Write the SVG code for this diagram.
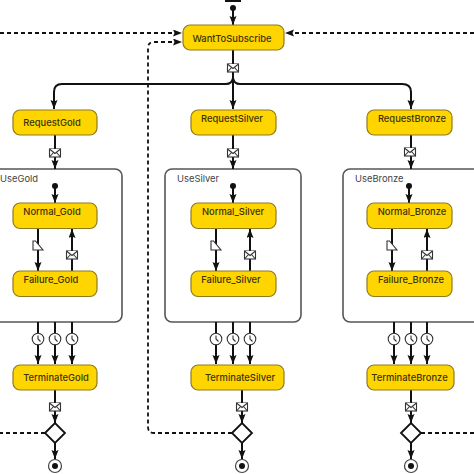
<svg xmlns="http://www.w3.org/2000/svg" width="474" height="474" viewBox="0 0 474 474">
<style>
.st{fill:#ffd500;stroke:#8f7a20;stroke-width:1.2}
.t{font-family:Inter,"Liberation Sans",sans-serif;font-size:9.4px;font-weight:500;fill:#3a3208;text-anchor:middle}
.r{fill:#fff;stroke:#555;stroke-width:1.6}
.l{font-family:Inter,"Liberation Sans",sans-serif;font-size:9.4px;fill:#444}
.c{fill:none;stroke:#111;stroke-width:2}
.d{fill:none;stroke:#111;stroke-width:1.8;stroke-dasharray:4 3}
.i{fill:#fff;stroke:#333;stroke-width:1.1}
.b{fill:#111}
</style>
<defs>
<marker id="a" markerUnits="userSpaceOnUse" markerWidth="10" markerHeight="8" refX="9" refY="3.500" orient="auto"><path d="M0 0L9 3.500L0 7L1.500 3.500Z" fill="#111"/></marker>
<g id="env"><rect x="-5.500" y="-4" width="11" height="8" class="i"/><path d="M-5.500-4L0 0.500L5.500-4M-5.500 4L-1.500-0.500M5.500 4L1.500-0.500" class="i"/></g>
<g id="clk"><circle r="5.800" class="i"/><path d="M0-3.500V0L2.500 2.500" class="i"/></g>
<g id="ramp"><path d="M-5-6H-2.500L5 3H-5Z" class="i"/></g>
<g id="fin"><circle r="6.500" fill="#fff" stroke="#444" stroke-width="1.200"/><circle r="3" class="b"/></g>
<path id="dia" d="M-10 0L0-10L10 0L0 10Z" fill="#fff" stroke="#111" stroke-width="1.800"/>
</defs>

<g id="UseGold"><rect class="r" x="-10" y="169" width="132" height="153" rx="7"/><text class="l" x="0" y="181.500">UseGold</text></g>
<g id="UseSilver"><rect class="r" x="165" y="169" width="136" height="153" rx="7"/><text class="l" x="177" y="181.500">UseSilver</text></g>
<g id="UseBronze"><rect class="r" x="343" y="169" width="140" height="153" rx="7"/><text class="l" x="355" y="181.500">UseBronze</text></g>

<g id="connectors">
<path class="d" d="M0 33H182" marker-end="url(#a)"/>
<path class="d" d="M474 33H285" marker-end="url(#a)"/>
<path class="d" d="M232 433H154Q148 433 148 427V48Q148 42 154 42H182" marker-end="url(#a)"/>
<path class="d" d="M45 433H0"/>
<path class="d" d="M421 433H474"/>
<path class="c" d="M233 8V25" marker-end="url(#a)"/>
<path class="c" d="M233 50V109" marker-end="url(#a)"/>
<path class="c" d="M233 78Q232 84 226 84H62Q54 84 54 92V109" marker-end="url(#a)"/>
<path class="c" d="M233 78Q234 84 240 84H402Q411 84 411 92V109" marker-end="url(#a)"/>
<path class="c" d="M55 135V169" marker-end="url(#a)"/>
<path class="c" d="M233 135V169" marker-end="url(#a)"/>
<path class="c" d="M411 135V169" marker-end="url(#a)"/>
<path class="c" d="M55 186V203" marker-end="url(#a)"/>
<path class="c" d="M233 186V203" marker-end="url(#a)"/>
<path class="c" d="M409 186V203" marker-end="url(#a)"/>
<path class="c" d="M38 229V271" marker-end="url(#a)"/>
<path class="c" d="M72 271V229" marker-end="url(#a)"/>
<path class="c" d="M216 229V271" marker-end="url(#a)"/>
<path class="c" d="M250 271V229" marker-end="url(#a)"/>
<path class="c" d="M392 229V271" marker-end="url(#a)"/>
<path class="c" d="M427 271V229" marker-end="url(#a)"/>
<path class="c" d="M38 322V364" marker-end="url(#a)"/>
<path class="c" d="M55 322V364" marker-end="url(#a)"/>
<path class="c" d="M72 322V364" marker-end="url(#a)"/>
<path class="c" d="M216 322V364" marker-end="url(#a)"/>
<path class="c" d="M233 322V364" marker-end="url(#a)"/>
<path class="c" d="M250 322V364" marker-end="url(#a)"/>
<path class="c" d="M394 322V364" marker-end="url(#a)"/>
<path class="c" d="M411 322V364" marker-end="url(#a)"/>
<path class="c" d="M427 322V364" marker-end="url(#a)"/>
<path class="c" d="M55 390V423" marker-end="url(#a)"/>
<path class="c" d="M242 390V423" marker-end="url(#a)"/>
<path class="c" d="M411 390V423" marker-end="url(#a)"/>
<path class="c" d="M55 443V459" marker-end="url(#a)"/>
<path class="c" d="M242 443V459" marker-end="url(#a)"/>
<path class="c" d="M411 443V459" marker-end="url(#a)"/>
</g>

<g id="icons">
<rect x="225" y="0" width="16" height="2" class="b"/>
<circle cx="233" cy="8" r="3" class="b"/><circle cx="55" cy="186" r="3" class="b"/><circle cx="233" cy="186" r="3" class="b"/><circle cx="409" cy="186" r="3" class="b"/>
<use href="#env" x="233" y="68"/><use href="#env" x="55" y="153"/><use href="#env" x="233" y="153"/><use href="#env" x="410" y="152"/>
<use href="#ramp" x="38" y="247"/><use href="#ramp" x="216" y="247"/><use href="#ramp" x="392" y="247"/>
<use href="#env" x="72" y="255"/><use href="#env" x="250" y="255"/><use href="#env" x="427" y="255"/>
<use href="#clk" x="38" y="339"/><use href="#clk" x="55" y="339"/><use href="#clk" x="72" y="339"/>
<use href="#clk" x="216" y="339"/><use href="#clk" x="233" y="339"/><use href="#clk" x="250" y="339"/>
<use href="#clk" x="394" y="339"/><use href="#clk" x="411" y="339"/><use href="#clk" x="427" y="339"/>
<use href="#env" x="55" y="407"/><use href="#env" x="242" y="407"/><use href="#env" x="411" y="407"/>
</g>

<g id="WantToSubscribe"><rect class="st" x="183" y="25" width="101" height="25" rx="7"/><text class="t" x="232" y="41.500">WantToSubscribe</text></g>
<g id="RequestGold"><rect class="st" x="13" y="110" width="84" height="25" rx="7"/><text class="t" x="52" y="126">RequestGold</text></g>
<g id="RequestSilver"><rect class="st" x="191" y="110" width="85" height="25" rx="7"/><text class="t" x="232" y="122">RequestSilver</text></g>
<g id="RequestBronze"><rect class="st" x="367" y="110" width="85" height="25" rx="7"/><text class="t" x="412" y="122">RequestBronze</text></g>
<g id="Normal_Gold"><rect class="st" x="13" y="203" width="84" height="25.500" rx="7"/><text class="t" x="52" y="215">Normal_Gold</text></g>
<g id="Failure_Gold"><rect class="st" x="13" y="271" width="84" height="25.500" rx="7"/><text class="t" x="51" y="283">Failure_Gold</text></g>
<g id="Normal_Silver"><rect class="st" x="191" y="203" width="85" height="25.500" rx="7"/><text class="t" x="233" y="215">Normal_Silver</text></g>
<g id="Failure_Silver"><rect class="st" x="191" y="271" width="85" height="25.500" rx="7"/><text class="t" x="231" y="283">Failure_Silver</text></g>
<g id="Normal_Bronze"><rect class="st" x="367" y="203" width="85" height="25.500" rx="7"/><text class="t" x="412" y="215">Normal_Bronze</text></g>
<g id="Failure_Bronze"><rect class="st" x="367" y="271" width="85" height="25.500" rx="7"/><text class="t" x="411" y="283">Failure_Bronze</text></g>
<g id="TerminateGold"><rect class="st" x="13" y="365" width="84" height="25" rx="7"/><text class="t" x="56" y="381">TerminateGold</text></g>
<g id="TerminateSilver"><rect class="st" x="191" y="365" width="93" height="25" rx="7"/><text class="t" x="240" y="381">TerminateSilver</text></g>
<g id="TerminateBronze"><rect class="st" x="367" y="365" width="87" height="25" rx="7"/><text class="t" x="409.500" y="381">TerminateBronze</text></g>
<g id="ChoiceGold"><use href="#dia" x="55" y="433"/></g>
<g id="ChoiceSilver"><use href="#dia" x="242" y="433"/></g>
<g id="ChoiceBronze"><use href="#dia" x="411" y="433"/></g>
<g id="EndGold"><use href="#fin" x="55" y="466"/></g>
<g id="EndSilver"><use href="#fin" x="242" y="466"/></g>
<g id="EndBronze"><use href="#fin" x="411" y="466"/></g>
</svg>
